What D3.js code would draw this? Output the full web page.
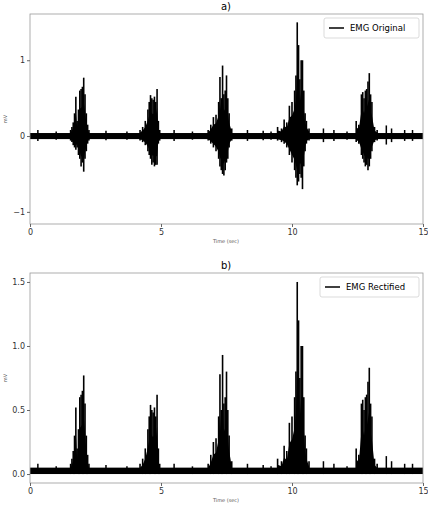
<!DOCTYPE html>
<html><head><meta charset="utf-8">
<script src="https://cdn.jsdelivr.net/npm/d3@7"></script>
<style>body{margin:0;background:#fff}</style>
</head><body><div id="chart"></div>
<script>
// envelope of each burst: [time, max, min]
const bursts = [
  [[1.55,.08,-.06],[1.60,.12,-.08],[1.65,.18,-.12],[1.70,.30,-.15],[1.75,.52,-.18],[1.80,.20,-.15],[1.85,.35,-.25],[1.90,.60,-.30],[1.95,.62,-.40],[2.00,.65,-.35],[2.05,.77,-.47],[2.10,.55,-.30],[2.15,.30,-.20],[2.20,.15,-.10],[2.25,.08,-.06]],
  [[4.20,.08,-.06],[4.30,.12,-.08],[4.40,.20,-.12],[4.50,.35,-.20],[4.55,.45,-.25],[4.60,.54,-.30],[4.65,.50,-.38],[4.70,.48,-.35],[4.75,.52,-.40],[4.80,.45,-.38],[4.85,.62,-.38],[4.90,.20,-.10],[4.95,.08,-.06]],
  [[6.80,.08,-.06],[6.90,.15,-.10],[7.00,.25,-.15],[7.10,.28,-.20],[7.20,.45,-.30],[7.25,.78,-.40],[7.30,.50,-.45],[7.35,.93,-.50],[7.40,.55,-.52],[7.45,.60,-.45],[7.50,.80,-.35],[7.55,.50,-.30],[7.60,.30,-.15],[7.70,.10,-.06]],
  [[9.45,.12,-.06],[9.60,.10,-.08],[9.70,.22,-.10],[9.80,.18,-.15],[9.90,.40,-.25],[10.00,.45,-.35],[10.10,.60,-.45],[10.15,.80,-.55],[10.20,1.50,-.65],[10.25,1.20,-.60],[10.30,.75,-.50],[10.35,1.00,-.55],[10.40,1.00,-.70],[10.45,.60,-.40],[10.50,.30,-.20],[10.55,.20,-.10],[10.65,.10,-.06]],
  [[12.45,.20,-.08],[12.55,.15,-.10],[12.65,.55,-.25],[12.70,.58,-.30],[12.75,.50,-.35],[12.80,.60,-.40],[12.85,.62,-.38],[12.90,.72,-.45],[12.95,.83,-.40],[13.00,.55,-.30],[13.05,.45,-.20],[13.15,.12,-.08],[13.25,.08,-.06]]
]
// isolated noise blips: [time, height]
const blips = [[0.3,.08],[1.0,.06],[2.9,.07],[3.7,.06],[5.5,.08],[6.2,.06],[8.3,.08],[8.9,.07],[9.2,.06],[11.2,.1],[11.6,.08],[12.1,.06],[13.6,.14],[13.8,.1],[14.3,.08],[14.6,.08]]
const noiseA = 0.04, noiseB = 0.05
const xTicks = [0, 5, 10, 15]
const yTicksA = [-1, 0, 1]
const yTicksB = [0, 0.5, 1.0, 1.5]

const W = 428, H = 506
const svg = d3.select('#chart').append('svg').attr('width', W).attr('height', H)
  .style('font-family', 'DejaVu Sans')

function panel(top, bottom, yDomain, yTicks, fmt, title, label, rect){
  const x = d3.scaleLinear().domain([0, 15]).range([30, 423])
  const y = d3.scaleLinear().domain(yDomain).range([bottom, top])
  const g = svg.append('g')
  const clip = 'clip' + title.replace(')', '')
  g.append('clipPath').attr('id', clip).append('rect')
    .attr('x', 30).attr('y', top).attr('width', 393).attr('height', bottom - top)
  const body = g.append('g').attr('clip-path', `url(#${clip})`)
  const noise = rect ? noiseB : noiseA

  // noise band
  body.append('rect').attr('x', x(0)).attr('width', x(15) - x(0))
    .attr('y', y(noise)).attr('height', y(rect ? 0 : -noise) - y(noise)).attr('fill', '#000')

  const hi = d => d[1]
  bursts.forEach(b => {
    body.append('path').datum(b).attr('fill', '#000')
      .attr('d', d3.area().x(d => x(d[0])).y0(d => y(rect ? 0 : d[2] * 0.7)).y1(d => y(hi(d) * 0.6)))
    body.selectAll(null).data(b).enter().append('line')
      .attr('x1', d => x(d[0])).attr('x2', d => x(d[0]))
      .attr('y1', d => y(hi(d))).attr('y2', d => y(rect ? 0 : d[2]))
      .attr('stroke', '#000').attr('stroke-width', 1.6)
  })
  body.selectAll(null).data(blips).enter().append('line')
    .attr('x1', d => x(d[0])).attr('x2', d => x(d[0]))
    .attr('y1', d => y(d[1])).attr('y2', d => y(rect ? 0 : -d[1] * 0.8))
    .attr('stroke', '#000').attr('stroke-width', 1.5)

  g.append('rect').attr('x', 30).attr('y', top).attr('width', 393).attr('height', bottom - top)
    .attr('fill', 'none').attr('stroke', '#999').attr('stroke-width', 0.8)

  const ax = g.append('g').attr('transform', `translate(0,${bottom})`)
    .call(d3.axisBottom(x).tickValues(xTicks).tickSize(3).tickPadding(2))
  const ay = g.append('g').attr('transform', 'translate(30,0)')
    .call(d3.axisLeft(y).tickValues(yTicks).tickFormat(fmt).tickSize(3).tickPadding(2))
  ;[ax, ay].forEach(a => {
    a.select('.domain').remove()
    a.selectAll('line').attr('stroke', '#666')
    a.selectAll('text').attr('font-size', 8).attr('fill', '#333').attr('font-family', 'DejaVu Sans')
  })

  g.append('text').attr('x', 226).attr('y', top - 4).attr('text-anchor', 'middle')
    .attr('font-size', 10).text(title)
  g.append('text').attr('x', 226).attr('y', bottom + 19).attr('text-anchor', 'middle')
    .attr('font-size', 5).attr('fill', '#555').text('Time (sec)')
  g.append('text').attr('transform', `translate(7,${(top + bottom) / 2}) rotate(-90)`)
    .attr('text-anchor', 'middle').attr('font-size', 5).attr('fill', '#555').text('mV')

  const lg = g.append('g').attr('transform', `translate(${label === 'EMG Original' ? 324 : 320},${top + 4})`)
  const lw = label === 'EMG Original' ? 95 : 99
  lg.append('rect').attr('width', lw).attr('height', 20).attr('rx', 2)
    .attr('fill', '#fff').attr('stroke', '#ccc').attr('stroke-width', 0.7)
  lg.append('line').attr('x1', 5).attr('x2', 20).attr('y1', 10).attr('y2', 10)
    .attr('stroke', '#000').attr('stroke-width', 1.5)
  lg.append('text').attr('x', 26).attr('y', 13).attr('font-size', 8.5).text(label)
}

panel(14, 224, [-1.16, 1.61], yTicksA, d3.format('d'), 'a)', 'EMG Original', false)
panel(273, 483, [-0.07, 1.57], yTicksB, d3.format('.1f'), 'b)', 'EMG Rectified', true)
</script>
</body></html>
